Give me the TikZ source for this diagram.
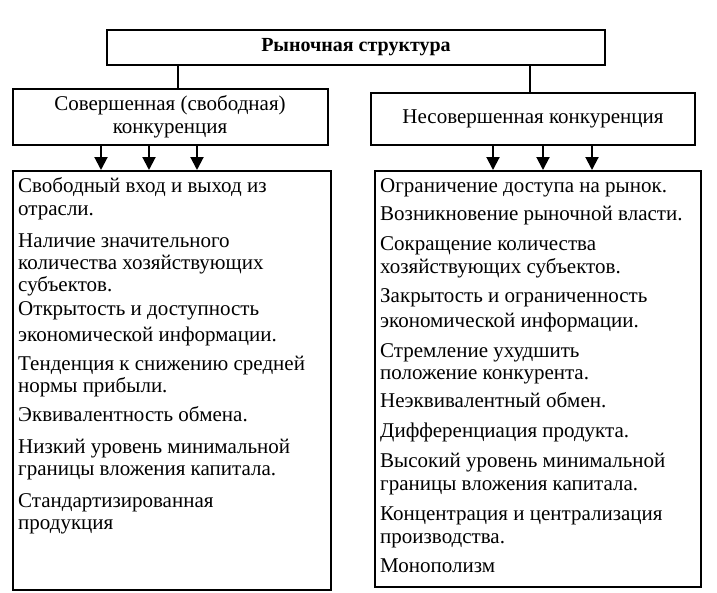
\documentclass[tikz,border=0pt]{standalone}
\usepackage{fontspec}
\setmainfont{Liberation Serif}
\usetikzlibrary{arrows.meta}
\begin{document}
\begin{tikzpicture}[x=1pt,y=-1pt,
  box/.style={draw,line width=2pt,inner sep=0pt},
  ln/.style={anchor=base west,inner sep=0pt,font=\fontsize{21}{24}\selectfont},
  conn/.style={line width=2pt},
  arr/.style={line width=2pt,-{Triangle[length=13pt,width=13pt]}}]
\useasboundingbox (0,0) rectangle (717,592);
\node[box,minimum width=498pt,minimum height=35pt,font=\bfseries\fontsize{20}{24}\selectfont] (top) at (356,47.5) {Рыночная структура};
\node[box,minimum width=315pt,minimum height=56pt,align=center,font=\fontsize{21}{23}\selectfont] (L) at (170,116.5) {Совершенная (свободная)\\конкуренция};
\node[box,minimum width=324pt,minimum height=52pt,font=\fontsize{21}{24}\selectfont] (R) at (533,118.5) {Несовершенная конкуренция};
\draw[conn] (top.south -| 178,0) -- (L.north -| 178,0);
\draw[conn] (top.south -| 530,0) -- (R.north -| 530,0);
\node[box,minimum width=318pt,minimum height=419pt,anchor=north west] (LL) at (12,170) {};
\node[box,minimum width=326pt,minimum height=416pt,anchor=north west] (RL) at (374,170) {};
\foreach \x in {101,149,197} \draw[arr] (L.south -| \x,0) -- (LL.north -| \x,0);
\foreach \x in {493,543,592} \draw[arr] (R.south -| \x,0) -- (RL.north -| \x,0);
\foreach \y/\t [count=\i] in {185/{Свободный вход и выход из},208/{отрасли.},240/{Наличие значительного},262/{количества хозяйствующих},284/{субъектов.},308/{Открытость и доступность},334/{экономической информации.},363/{Тенденция к снижению средней},385/{нормы прибыли.},414/{Эквивалентность обмена.},446/{Низкий уровень минимальной},468/{границы вложения капитала.},500/{Стандартизированная},522/{продукция}}
  \node[ln] (l\i) at (18,\y+7) {\t};
\foreach \y/\t [count=\i] in {185/{Ограничение доступа на рынок.},213/{Возникновение рыночной власти.},243/{Сокращение количества},266/{хозяйствующих субъектов.},295/{Закрытость и ограниченность},320/{экономической информации.},350/{Стремление ухудшить},372/{положение конкурента.},400/{Неэквивалентный обмен.},430/{Дифференциация продукта.},460/{Высокий уровень минимальной},483/{границы вложения капитала.},513/{Концентрация и централизация},536/{производства.},565/{Монополизм}}
  \node[ln] (r\i) at (380,\y+7) {\t};
\end{tikzpicture}
\end{document}
